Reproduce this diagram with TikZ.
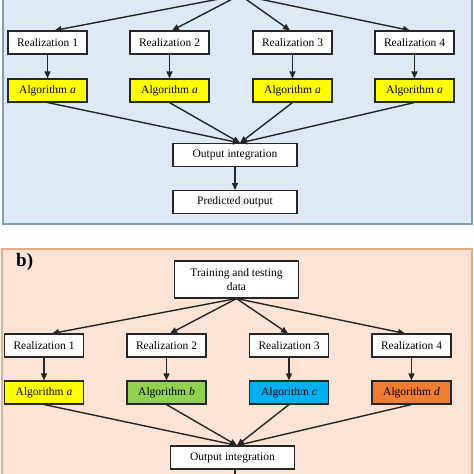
\documentclass[tikz,border=0pt]{standalone}
\usepackage{fontspec}
\setmainfont{Liberation Serif}
\usetikzlibrary{arrows.meta,positioning}
\definecolor{panelblue}{RGB}{221,234,246}
\definecolor{edgeblue}{RGB}{127,157,185}
\definecolor{panelpeach}{RGB}{251,228,213}
\definecolor{edgepeach}{RGB}{232,172,128}
\definecolor{algyellow}{RGB}{255,255,0}
\definecolor{alggreen}{RGB}{146,208,80}
\definecolor{algblue}{RGB}{0,176,240}
\definecolor{algorange}{RGB}{237,125,49}

\begin{document}
\begin{tikzpicture}[x=1pt,y=-1pt,
  box/.style={draw=black!85,line width=1.1pt,fill=white,minimum width=79pt,minimum height=23pt,inner sep=1pt,font=\fontsize{11.5}{14}\selectfont},
  algbox/.style={box,fill=#1},
  widebox/.style={box,minimum width=124pt},
  arr/.style={-{Triangle[length=7pt,width=6pt]},line width=1.4pt,black!85}
]
\clip (0,0) rectangle (474,474);
% panel a)
\draw[fill=panelblue,draw=edgeblue,line width=1.3pt] (3,-10) rectangle (472,224);
\coordinate (src1) at (240,-5);
\node[box] (r1a) at (47.5,42.5) {Realization 1};
\node[box] (r2a) at (169.5,42.5) {Realization 2};
\node[box] (r3a) at (292.5,42.5) {Realization 3};
\node[box] (r4a) at (414.5,42.5) {Realization 4};
\node[algbox=algyellow] (g1a) at (47.5,90.5) {Algorithm \textit{a}};
\node[algbox=algyellow] (g2a) at (169.5,90.5) {Algorithm \textit{a}};
\node[algbox=algyellow] (g3a) at (292.5,90.5) {Algorithm \textit{a}};
\node[algbox=algyellow] (g4a) at (414.5,90.5) {Algorithm \textit{a}};
\node[widebox] (out1) at (235,155) {Output integration};
\node[widebox,below=23pt of out1] (pred) {Predicted output};
\draw[arr] (src1) -- ([xshift=7pt]r1a.north);
\draw[arr] (src1) -- ([xshift=2.5pt]r2a.north);
\draw[arr] (src1) -- ([xshift=-2.5pt]r3a.north);
\draw[arr] (src1) -- ([xshift=-4.5pt]r4a.north);
\draw[arr] (r1a) -- (g1a);
\draw[arr] (r2a) -- (g2a);
\draw[arr] (r3a) -- (g3a);
\draw[arr] (r4a) -- (g4a);
\draw[arr] (g1a.south) -- ([xshift=5pt]out1.north);
\draw[arr] (g2a.south) -- ([xshift=5pt]out1.north);
\draw[arr] (g3a.south) -- ([xshift=5pt]out1.north);
\draw[arr] (g4a.south) -- ([xshift=5pt]out1.north);
\draw[arr] (out1) -- (pred);
% panel b)
\draw[fill=panelpeach,draw=edgepeach,line width=1.3pt] (2,249) rectangle (472,490);
\node[font=\fontsize{19}{20}\selectfont\bfseries,anchor=west,inner sep=0pt] (lblb) at (16,262) {b)};
\node[widebox,minimum height=37pt,align=center] (trn) at (236.5,279.5) {Training and testing\\data};
\node[box] (r1b) at (44,345.5) {Realization 1};
\node[box] (r2b) at (166.5,345.5) {Realization 2};
\node[box] (r3b) at (289,345.5) {Realization 3};
\node[box] (r4b) at (411.5,345.5) {Realization 4};
\node[algbox=algyellow] (g1b) at (44,392.5) {Algorithm \textit{a}};
\node[algbox=alggreen] (g2b) at (166.5,392.5) {Algorithm \textit{b}};
\node[algbox=algblue] (g3b) at (289,392.5) {Algorithm \textit{c}};
\node[algbox=algorange] (g4b) at (411.5,392.5) {Algorithm \textit{d}};
\node[widebox] (out2) at (232.5,457.5) {Output integration};
\coordinate (endb) at (235,495);
\draw[arr] (trn.south) -- ([xshift=8pt]r1b.north);
\draw[arr] (trn.south) -- ([xshift=3.5pt]r2b.north);
\draw[arr] (trn.south) -- ([xshift=-1pt]r3b.north);
\draw[arr] (trn.south) -- ([xshift=-6.5pt]r4b.north);
\draw[arr] (r1b) -- (g1b);
\draw[arr] (r2b) -- (g2b);
\draw[arr] (r3b) -- (g3b);
\draw[arr] (r4b) -- (g4b);
\draw[arr] (g1b.south) -- ([xshift=4.5pt]out2.north);
\draw[arr] (g2b.south) -- ([xshift=4.5pt]out2.north);
\draw[arr] (g3b.south) -- ([xshift=4.5pt]out2.north);
\draw[arr] (g4b.south) -- ([xshift=4.5pt]out2.north);
\draw[arr] ([xshift=2.5pt]out2.south) -- (endb);
\end{tikzpicture}
\end{document}
